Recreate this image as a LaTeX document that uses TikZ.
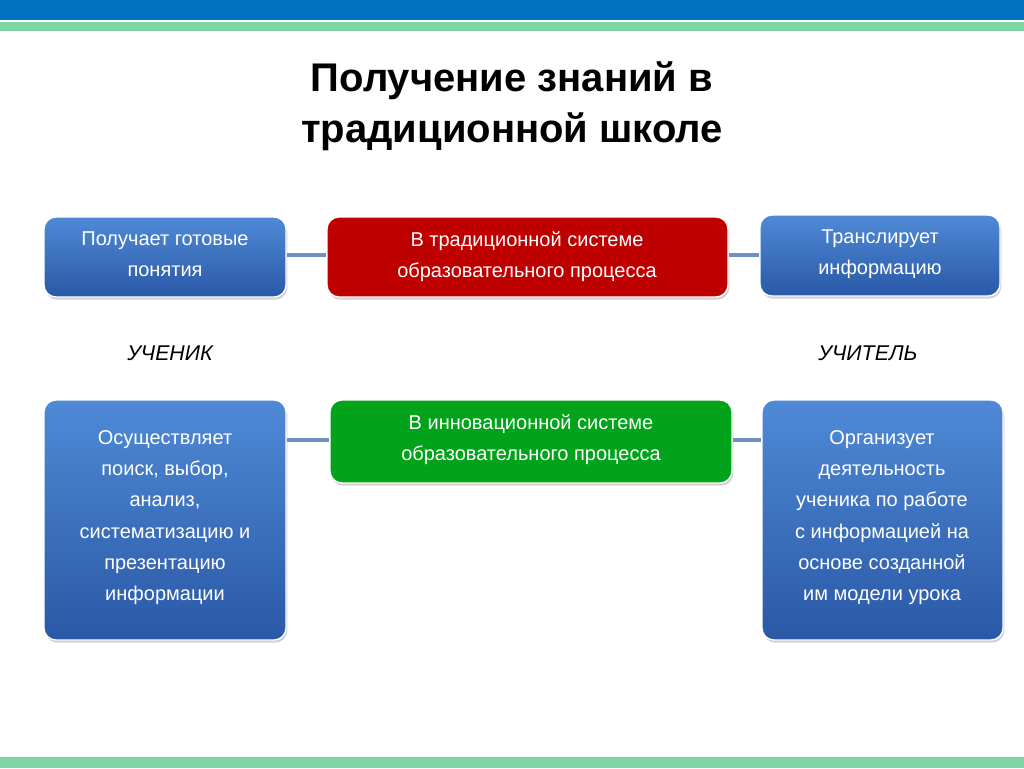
\documentclass[tikz,border=0pt]{standalone}
\usepackage{fontspec}
\setmainfont{Liberation Sans}
\usetikzlibrary{shadows,calc}
\definecolor{topblue}{HTML}{0070C0}
\definecolor{lgreen}{HTML}{7ED6A4}
\definecolor{boxtop}{HTML}{4F8AD6}
\definecolor{boxbot}{HTML}{2A58A6}
\definecolor{conn}{HTML}{6F8FC0}
\tikzset{
 bx/.style={rounded corners=9pt,draw=white,line width=1pt,drop shadow={opacity=0.35,shadow xshift=1pt,shadow yshift=-2pt}},
 bluebx/.style={bx,top color=boxtop,bottom color=boxbot},
 txt/.style={text=white,align=center,font=\fontsize{15}{23.5}\selectfont,anchor=north,inner sep=0pt},
 cn/.style={draw=conn,line width=3pt},
 role/.style={font=\fontsize{16}{19}\selectfont\itshape}
}
\begin{document}
\begin{tikzpicture}[x=0.75pt,y=-0.75pt]
\path[use as bounding box] (0,0) rectangle (1024,768);
\fill[white] (0,0) rectangle (1024,768);
\fill[topblue] (0,0) rectangle (1024,20);
\fill[lgreen] (0,22) rectangle (1024,31);
\fill[lgreen] (0,757) rectangle (1024,768);
\node[font=\fontsize{30}{38}\selectfont\bfseries,align=center] (title) at (512,106) {Получение знаний в\\традиционной школе};
% boxes
\path[bluebx] (44,217) rectangle (286,297);
\coordinate (lt) at (165,217);
\path[bx,fill=red!75!black] (327,217) rectangle (728,297);
\coordinate (ct) at (527,217);
\path[bluebx] (760,215) rectangle (1000,296);
\coordinate (rt) at (880,215);
\path[bluebx] (44,400) rectangle (286,640);
\coordinate (lb) at (165,400);
\path[bx,fill=green!60!black!90!cyan] (330,400) rectangle (732,483);
\coordinate (cb) at (531,400);
\path[bluebx] (762,400) rectangle (1003,640);
\coordinate (rb) at (882,400);
% connectors
\coordinate (c1a) at (287,255); \coordinate (c1b) at (326,255);
\coordinate (c2a) at (729,255); \coordinate (c2b) at (759,255);
\coordinate (c3a) at (287,440); \coordinate (c3b) at (329,440);
\coordinate (c4a) at (733,440); \coordinate (c4b) at (761,440);
\draw[cn] (c1a) -- (c1b); \draw[cn] (c2a) -- (c2b);
\draw[cn] (c3a) -- (c3b); \draw[cn] (c4a) -- (c4b);
% texts
\node[txt] (tlt) at ($(lt)+(0,14)$) {Получает готовые\\понятия};
\node[txt] (tct) at ($(ct)+(0,14)$) {В традиционной системе\\образовательного процесса};
\node[txt] (trt) at ($(rt)+(0,14)$) {Транслирует\\информацию};
\node[txt] (tlb) at ($(lb)+(0,30)$) {Осуществляет\\поиск, выбор,\\анализ,\\систематизацию и\\презентацию\\информации};
\node[txt] (tcb) at ($(cb)+(0,14)$) {В инновационной системе\\образовательного процесса};
\node[txt] (trb) at ($(rb)+(0,30)$) {Организует\\деятельность\\ученика по работе\\с информацией на\\основе созданной\\им модели урока};
\node[role] (u1) at (170,353) {УЧЕНИК};
\node[role] (u2) at (868,353) {УЧИТЕЛЬ};
\end{tikzpicture}
\end{document}
